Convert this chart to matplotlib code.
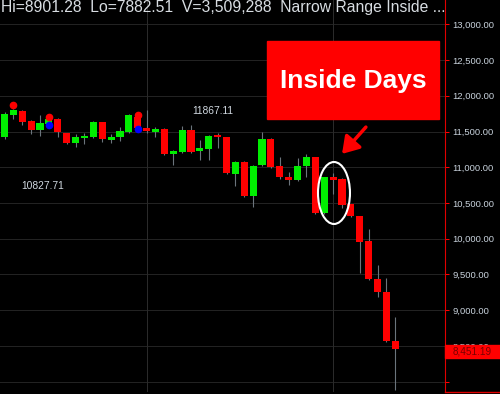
import numpy as np
import matplotlib
matplotlib.use("Agg")
import matplotlib.pyplot as plt
from matplotlib.patches import Ellipse, Rectangle
from matplotlib.lines import Line2D

plt.rcParams['font.family'] = ['Liberation Sans', 'DejaVu Sans']

# daily OHLC (last bar = header values)
opens  = [11423, 11731, 11787, 11647, 11521, 11605, 11675, 11479, 11339, 11409,
          11423, 11633, 11381, 11423, 11493, 11703, 11549, 11493, 11535, 11185,
          11213, 11521, 11227, 11255, 11451, 11423, 10905, 11073, 10598, 11031,
          11395, 11017, 10863, 10821, 11017, 11143, 10360, 10863, 10835, 10486,
          10318, 9968, 9436, 9254, 8569]
highs  = [11773, 11815, 11801, 11660, 11731, 11690, 11689, 11485, 11465, 11479,
          11647, 11640, 11465, 11563, 11740, 11715, 11801, 11563, 11545, 11240,
          11577, 11591, 11381, 11451, 11479, 11430, 11087, 11085, 11025, 11493,
          11410, 11143, 10933, 11129, 11185, 11150, 10870, 10919, 10845, 10490,
          10325, 10136, 9632, 9450, 8901.28]
lows   = [11395, 11675, 11591, 11465, 11437, 11590, 11423, 11325, 11283, 11325,
          11410, 11353, 11339, 11367, 11480, 11535, 11479, 11423, 11171, 11031,
          11200, 11200, 11101, 11101, 11269, 10905, 10737, 10590, 10444, 11020,
          10990, 10835, 10751, 10810, 10863, 10350, 10350, 10626, 10430, 10304,
          9520, 9420, 9184, 8560, 7882.51]
closes = [11745, 11801, 11633, 11521, 11619, 11675, 11493, 11339, 11423, 11437,
          11633, 11395, 11423, 11507, 11731, 11549, 11507, 11535, 11185, 11227,
          11521, 11213, 11269, 11437, 11423, 10919, 11073, 10598, 11017, 11395,
          11003, 10863, 10821, 11017, 11143, 10360, 10863, 10821, 10472, 10318,
          9954, 9436, 9254, 8569, 8451.19]

# indicator dots
red_dot_idx = [1, 5, 15]
red_dot_val = [11871, 11703, 11731]
blue_dot_idx = [5, 15]
blue_dot_val = [11591, 11535]

price_ticks = [8000, 8500, 9000, 9500, 10000, 10500, 11000, 11500, 12000, 12500, 13000]
tick_labels = [""] + [f"{t:,.2f}" for t in price_ticks[1:]]
grid_x = [16, 37]

o = np.array(opens); h = np.array(highs); l = np.array(lows); c = np.array(closes)
x = np.arange(len(o))
up = c >= o

fig = plt.figure(figsize=(5, 3.94), dpi=100, facecolor="black")
ax = fig.add_axes([0, 2 / 394, 0.89, 392 / 394], facecolor="black")

for t in price_ticks:
    ax.axhline(t, color="#222222", lw=0.75, zorder=0)
for gx in grid_x:
    ax.axvline(gx, color="#2a2a2a", lw=0.75, zorder=0)

ax.vlines(x, l, h, color="#6b747c", lw=0.8, zorder=1)
body_h = np.maximum(np.abs(c - o), 25)
body_b = np.minimum(o, c)
ax.bar(x[up], body_h[up], bottom=body_b[up], width=0.8, color="#00ee00", zorder=2)
ax.bar(x[~up], body_h[~up], bottom=body_b[~up], width=0.8, color="#ff0000", zorder=2)

ax.plot(red_dot_idx, red_dot_val, "o", color="#ff0000", ms=4.5, zorder=3)
ax.plot(blue_dot_idx, blue_dot_val, "o", color="#0000ff", ms=4.5, zorder=3)

ax.text(23.4, 11787, "11867.11", color="#d0d8e0", fontsize=7.4, ha="center", va="center")
ax.text(4.3, 10737, "10827.71", color="#d0d8e0", fontsize=7.4, ha="center", va="center")

ax.add_patch(Ellipse((37.1, 10640), 3.6, 867, fill=False, ec="white", lw=1.5, zorder=4))
ax.annotate("", xy=(37.8, 11158), xytext=(40.9, 11591),
            arrowprops=dict(arrowstyle="-|>,head_width=0.45,head_length=0.7",
                            color="#ff0000", lw=2.5, mutation_scale=14), zorder=4)

ax.set_xlim(-0.507, 49.6)
ax.set_ylim(7856, 13340)
ax.set_xticks([])
ax.yaxis.tick_right()
ax.set_yticks(price_ticks)
ax.set_yticklabels(tick_labels)
ax.tick_params(axis="y", colors="#ff0000", length=3, width=0.75, pad=2.5,
               labelsize=6.8, labelcolor="#c8d2dc")
for s in ["left", "top", "bottom"]:
    ax.spines[s].set_visible(False)
ax.spines["right"].set_color("#e00000")
ax.spines["right"].set_linewidth(0.8)

fig.add_artist(Line2D([0.89, 1.0], [2 / 394, 2 / 394], color="#e00000", lw=1))

# last price box (covers the 8,500 label like the original)
fig.add_artist(Rectangle((0.89, 1 - 358 / 394), 0.11, 13 / 394, color="#ff0000", zorder=5))
fig.text(0.944, 1 - 351.5 / 394, "8,451.19", color="#7a0000", fontsize=7.2,
         ha="center", va="center", zorder=6)

# callout
fig.add_artist(Rectangle((267 / 500, 1 - 119 / 394), 172 / 500, 78 / 394, color="#ff0000", zorder=5))
fig.text(353 / 500, 1 - 88 / 394, "Inside Days", color="white", fontsize=19,
         fontweight="bold", ha="center", va="baseline", zorder=6)

fig.text(0.002, 1 - 12 / 394, "Hi=8901.28  Lo=7882.51  V=3,509,288  Narrow Range Inside ...",
         color="#d8dde2", fontsize=11.3, ha="left", va="baseline")

fig.savefig("out.png", dpi=100, facecolor="black")
